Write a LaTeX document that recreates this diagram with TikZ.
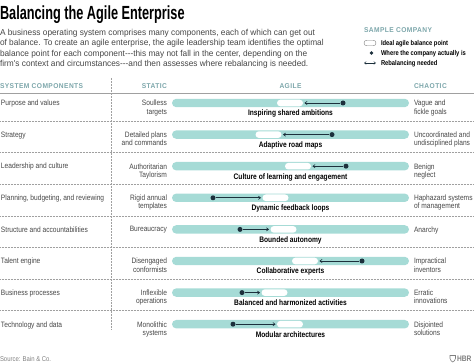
\documentclass[tikz,border=0pt]{standalone}
\usepackage{fontspec}
\setmainfont{Liberation Sans}
\newfontfamily\titlef[FakeStretch=0.67]{Liberation Sans}
\newfontfamily\bodyf[FakeStretch=0.965]{Liberation Sans}
\newfontfamily\condf[FakeStretch=0.85]{Liberation Sans}
\newfontfamily\boldf[FakeStretch=0.83]{Liberation Sans}
\newfontfamily\hdrf[FakeStretch=0.95,LetterSpace=6]{Liberation Sans}
\usetikzlibrary{arrows.meta}
\definecolor{barteal}{RGB}{166,219,214}
\definecolor{navy}{RGB}{28,48,60}
\definecolor{hdr}{RGB}{124,166,170}
\definecolor{txt}{RGB}{70,70,70}
\definecolor{rulec}{RGB}{160,160,160}
\tikzset{
  tx/.style={inner sep=0pt, outer sep=0pt},
  bodytext/.style={tx, text=txt, font=\bodyf\fontsize{8.6}{10}\selectfont},
  rowtext/.style={tx, text=txt, font=\condf\fontsize{7.8}{8.3}\selectfont},
  labtext/.style={tx, text=black, font=\boldf\bfseries\fontsize{8}{8}\selectfont},
  legtext/.style={tx, text=black, font=\boldf\bfseries\fontsize{7}{7}\selectfont},
  hdrtext/.style={tx, text=hdr, font=\hdrf\bfseries\fontsize{7}{7}\selectfont},
  bar/.style={fill=barteal, draw=none, rounded corners=4.2pt, minimum width=237pt, minimum height=8.4pt, inner sep=0pt},
  pill/.style={fill=white, draw=none, rounded corners=3.3pt, minimum width=26pt, minimum height=6.6pt, inner sep=0pt},
  dot/.style={circle, fill=navy, minimum size=5pt, inner sep=0pt},
  arr/.style={navy, line width=0.6pt, shorten >=1.2pt, -{Straight Barb[length=2.2pt,width=3.2pt]}},
  seprule/.style={rulec, line width=0.5pt, densely dotted},
  solidrule/.style={rulec, line width=0.5pt},
}
\newcommand\myrow[8]{%
  \node[bar] (b#1) at (290.5,#2) {};
  \node[pill] (p#1) at (#6,#2) {};
  \node[dot] (d#1) at (#7,#2) {};
  \draw[arr] (d#1) -- (p#1);
  \node[rowtext, anchor=base west] (l#1) at (1,#2+2.8) {#3};
  \node[rowtext, anchor=north east, align=right] (s#1) at (167,#2-2.8) {#4};
  \node[rowtext, anchor=north west, align=left] (c#1) at (414,#2-2.8) {#5};
  \node[labtext, anchor=base] (t#1) at (290.5,#2+13) {#8};
}
\begin{document}
\begin{tikzpicture}[x=1pt,y=-1pt]
\useasboundingbox (0,0) rectangle (474,363);
% title and intro
\node[tx, anchor=base west, font=\titlef\bfseries\fontsize{19}{19}\selectfont] (title) at (0,19.5) {Balancing the Agile Enterprise};
\node[bodytext, anchor=base west] (bl1) at (0,35.2) {A business operating system comprises many components, each of which can get out};
\node[bodytext, anchor=base west] (bl2) at (0,45.8) {of balance. To create an agile enterprise, the agile leadership team identifies the optimal};
\node[bodytext, anchor=base west] (bl3) at (0,56.4) {balance point for each component---this may not fall in the center, depending on the};
\node[bodytext, anchor=base west] (bl4) at (0,67) {firm's context and circumstances---and then assesses where rebalancing is needed.};
% legend
\node[hdrtext, anchor=base west] (lgh) at (364,32.5) {SAMPLE COMPANY};
\node[pill, draw=gray, line width=0.4pt, minimum width=12pt, minimum height=5.5pt, rounded corners=2.7pt] (lgp) at (370,43) {};
\node[legtext, anchor=base west] (lg1) at (381,45.5) {Ideal agile balance point};
\node[dot, minimum size=3.6pt] (lgd) at (371.5,53) {};
\node[legtext, anchor=base west] (lg2) at (381,55.5) {Where the company actually is};
\coordinate (la1) at (364,63);
\coordinate (la2) at (376,63);
\draw[navy, line width=0.5pt, {Straight Barb[length=1.8pt,width=2.6pt]}-{Straight Barb[length=1.8pt,width=2.6pt]}] (la1) -- (la2);
\node[legtext, anchor=base west] (lg3) at (381,65.5) {Rebalancing needed};
% headers
\node[hdrtext, anchor=base west] (h1) at (0,88.5) {SYSTEM COMPONENTS};
\node[hdrtext, anchor=base east] (h2) at (167,88.5) {STATIC};
\node[hdrtext, anchor=base] (h3) at (290.5,88.5) {AGILE};
\node[hdrtext, anchor=base west] (h4) at (414,88.5) {CHAOTIC};
\coordinate (hr1) at (0,93);
\coordinate (hr2) at (474,93);
\draw[solidrule] (hr1) -- (hr2);
\foreach \k in {0,...,6} {
  \coordinate (sa\k) at (0,121+31.6*\k);
  \coordinate (sb\k) at (474,121+31.6*\k);
  \draw[seprule] (sa\k) -- (sb\k);
}
\coordinate (va) at (111.5,78);
\coordinate (vb) at (111.5,329);
\draw[seprule] (va) -- (vb);
% rows
\myrow{1}{103}{Purpose and values}{Soulless\\targets}{Vague and\\fickle goals}{290}{343}{Inspiring shared ambitions}
\myrow{2}{134.6}{Strategy}{Detailed plans\\and commands}{Uncoordinated and\\undisciplined plans}{268.5}{332}{Adaptive road maps}
\myrow{3}{166.2}{Leadership and culture}{Authoritarian\\Taylorism}{Benign\\neglect}{298}{346}{Culture of learning and engagement}
\myrow{4}{197.8}{Planning, budgeting, and reviewing}{Rigid annual\\templates}{Haphazard systems\\of management}{275.5}{213}{Dynamic feedback loops}
\myrow{5}{229.4}{Structure and accountabilities}{Bureaucracy}{Anarchy}{283.5}{240}{Bounded autonomy}
\myrow{6}{261}{Talent engine}{Disengaged\\conformists}{Impractical\\inventors}{305}{362}{Collaborative experts}
\myrow{7}{292.6}{Business processes}{Inflexible\\operations}{Erratic\\innovations}{274.5}{242}{Balanced and harmonized activities}
\myrow{8}{324.2}{Technology and data}{Monolithic\\systems}{Disjointed\\solutions}{290}{233}{Modular architectures}
% footer
\node[tx, anchor=base west, text=gray, font=\condf\fontsize{7}{7}\selectfont] (src) at (0,361.5) {Source: Bain \& Co.};
\draw[gray, line width=0.6pt] (450,355.5) -- (455.5,355.5) -- (455.5,358.5) .. controls (455.5,360.5) and (453.5,361.5) .. (452.75,362) .. controls (452,361.5) and (450,360.5) .. (450,358.5) -- cycle;
\node[tx, anchor=base west, text=gray, font=\boldf\bfseries\fontsize{8}{8}\selectfont] (hbr) at (457,362) {HBR};
\end{tikzpicture}
\end{document}
